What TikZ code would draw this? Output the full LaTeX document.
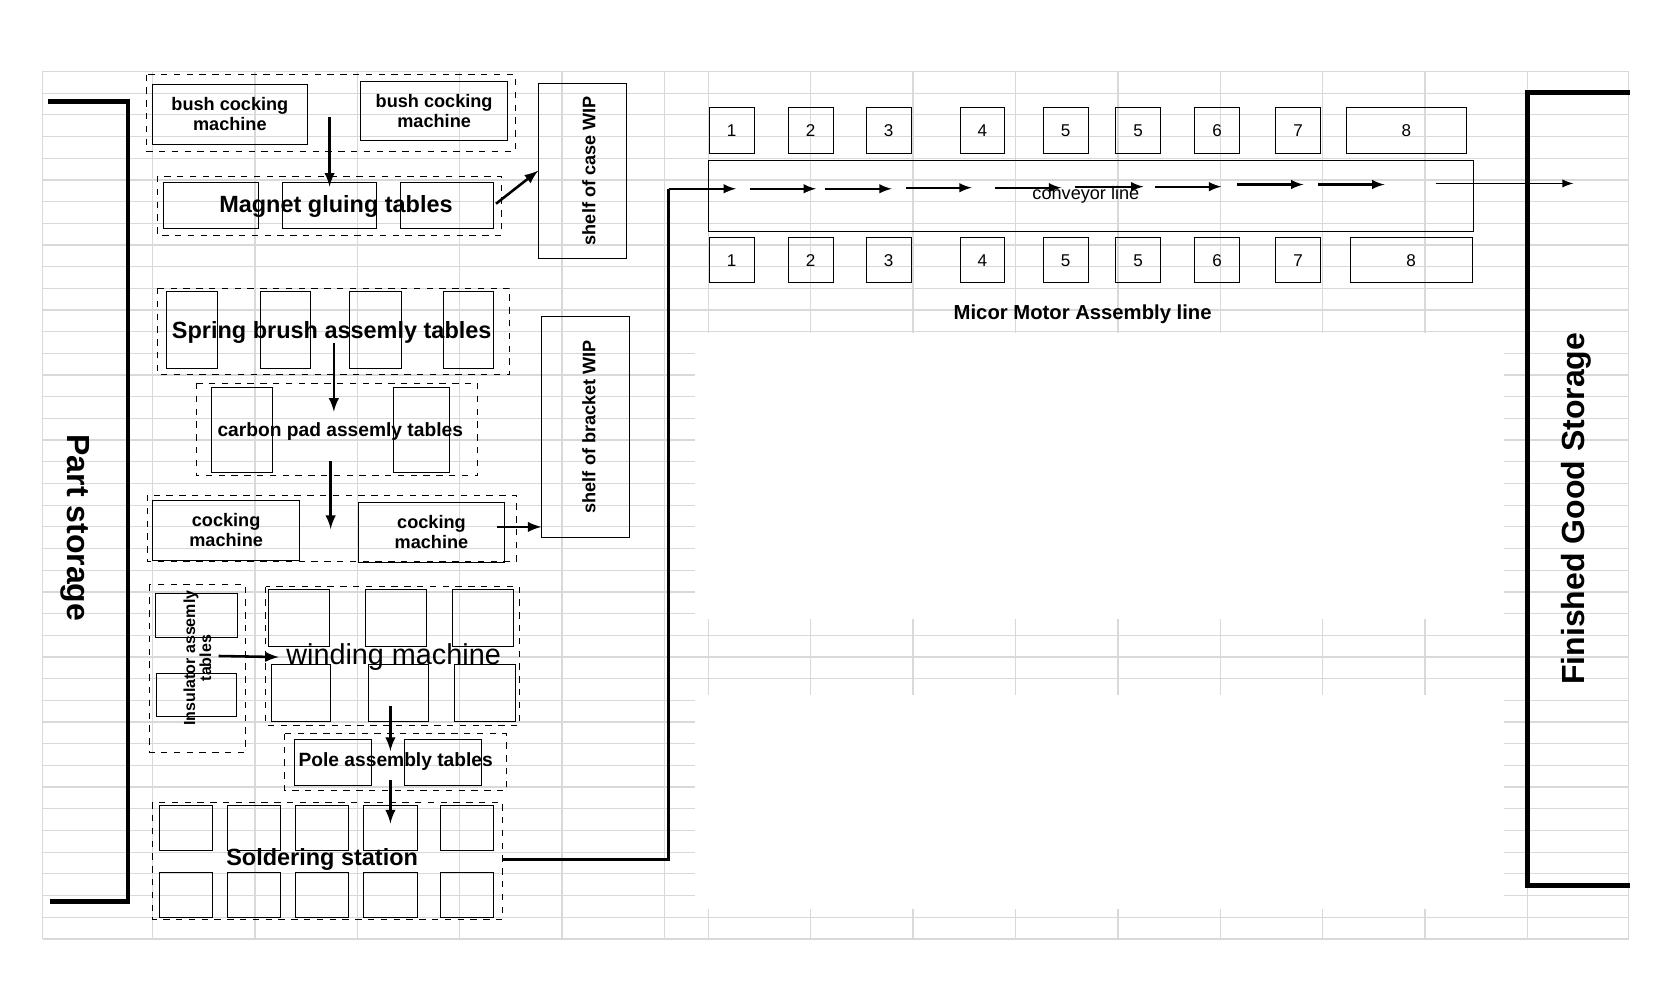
\documentclass[tikz,border=0pt]{standalone}
\usepackage{fontspec}
\setmainfont{Liberation Sans}
\begin{document}
\begin{tikzpicture}[x=0.5pt,y=-0.5pt,
  grp/.style={draw,dashed,thin},
  bx/.style={draw,thin},
  arr/.style={-latex,line width=1.2pt},
  thk/.style={line width=2.2pt},
  lbl/.style={font=\bfseries\fontsize{8.5}{9.5}\selectfont,align=center},
  big/.style={font=\bfseries\fontsize{11}{12}\selectfont},
  num/.style={font=\fontsize{8}{9}\selectfont}]
\useasboundingbox (0,0) rectangle (1560,936);
% grid
\foreach \i in {0,...,40}{\draw[gray!30,line width=0.6pt] (40,{67+\i*20.33}) -- (1527,{67+\i*20.33});}
\foreach \x in {40,143,239,335,431,527,623,664,760,856,952,1048,1144,1240,1336,1432,1527}{\draw[gray!30,line width=0.6pt] (\x,67) -- (\x,880);}
\fill[white] (652,312) rectangle (1410,580);
\fill[white] (652,652) rectangle (1410,852);
% storages
\draw[thk] (45,95) -- (120,95) -- (120,845) -- (47,845);
\node[rotate=-90,font=\bfseries\fontsize{15}{16}\selectfont] (ps) at (70,495) {Part storage};
\draw[thk] (1528,87) -- (1432,87) -- (1432,830) -- (1528,830);
\node[rotate=90,font=\bfseries\fontsize{15}{16}\selectfont] (fg) at (1478,477) {Finished Good Storage};
% bush cocking
\draw[grp] (137,70) rectangle (483,142);
\node[bx,lbl,minimum width=72.5pt,minimum height=28pt] (bc1) at (215.5,107) {bush cocking\\machine};
\node[bx,lbl,minimum width=69pt,minimum height=28pt] (bc2) at (407,104) {bush cocking\\machine};
% magnet
\draw[grp] (148,165) rectangle (470,221);
\draw[bx] (153,171) rectangle (242,214) (265,171) rectangle (353,214) (375,171) rectangle (463,214);
\node[big] (mg) at (315,194) {Magnet gluing tables};
\coordinate (a1s) at (309,110); \coordinate (a1e) at (309,175);
\draw[arr] (a1s) -- (a1e);
\node[bx,minimum width=41pt,minimum height=82pt] (scase) at (546,160) {};
\node[rotate=90,lbl] at (552,160) {shelf of case WIP};
\coordinate (a2s) at (465,191);
\draw[arr] (a2s) -- (scase.west);
% spring
\draw[grp] (148,270) rectangle (478,351);
\draw[bx] (156,273) rectangle (204,345) (244,273) rectangle (291,345) (328,273) rectangle (376,345) (416,273) rectangle (463,345);
\node[big] (sp) at (311,312) {Spring brush assemly tables};
\coordinate (a3s) at (313,322); \coordinate (a3e) at (313,386);
\draw[arr] (a3s) -- (a3e);
% carbon
\draw[grp] (184,359) rectangle (448,446);
\draw[bx] (198,363) rectangle (255,443) (369,363) rectangle (421,443);
\node[lbl,font=\bfseries\fontsize{9}{10}\selectfont] (cp) at (319,405) {carbon pad assemly tables};
\coordinate (a4s) at (310,432); \coordinate (a4e) at (310,496);
\draw[arr] (a4s) -- (a4e);
\node[bx,minimum width=41pt,minimum height=103.5pt] (sbr) at (549,400.5) {};
\node[rotate=90,lbl] at (552,400) {shelf of bracket WIP};
% cocking
\draw[grp] (138,464) rectangle (484,526);
\node[bx,lbl,minimum width=69pt,minimum height=28pt] (cm1) at (212,497) {cocking\\machine};
\node[bx,lbl,minimum width=68.5pt,minimum height=28pt] (cm2) at (404.5,499) {cocking\\machine};
\coordinate (a5s) at (466,494);
\draw[arr] (a5s) -- (sbr.west |- a5s);
% insulator
\draw[grp] (140,548) rectangle (230,705);
\draw[bx] (146,556) rectangle (223,598) (147,631) rectangle (222,672);
\node[rotate=90,lbl,font=\bfseries\fontsize{7.5}{7.5}\selectfont] (ins) at (185,617) {Insulator assemly\\tables};
% winding
\draw[grp] (249,550) rectangle (487,680);
\draw[bx] (252,553) rectangle (309,606) (343,553) rectangle (400,606) (424,553) rectangle (481,606)
 (254,623) rectangle (310,676) (345,623) rectangle (402,676) (426,623) rectangle (483,676);
\node[font=\fontsize{13.5}{14}\selectfont] (wm) at (369,616) {winding machine};
\coordinate (a6s) at (205,615);
\draw[arr] (a6s) -- (wm.west);
\coordinate (a7s) at (366,662); \coordinate (a7e) at (366,704);
\draw[arr] (a7s) -- (a7e);
% pole
\draw[grp] (267,688) rectangle (475,741);
\draw[bx] (276,693) rectangle (348,736) (379,693) rectangle (451,736);
\node[lbl,font=\bfseries\fontsize{9}{10}\selectfont] (pole) at (371,714) {Pole assembly tables};
\coordinate (a8s) at (366,731); \coordinate (a8e) at (366,772);
\draw[arr] (a8s) -- (a8e);
% soldering
\draw[grp] (143,752) rectangle (471,862);
\foreach \x in {149,213,277,341,413}{\draw[bx] (\x,755) rectangle (\x+50,797) (\x,818) rectangle (\x+50,860);}
\node[big] (sol) at (302,806) {Soldering station};
\coordinate (s1) at (471,806); \coordinate (c1) at (690,177);
\draw[line width=1.5pt] (s1) -- (627,806) -- (627,177);
\draw[arr,line width=1pt] (627,177) -- (c1);
% conveyor
\node[bx,minimum width=358.5pt,minimum height=33.5pt] (conv) at (1022.5,183.5) {};
\node[font=\fontsize{8.5}{9}\selectfont] at (1018,183) {conveyor  line};
\foreach \a/\b/\y in {703/765/177,773/836/177,849/911/176,933/995/176,1008/1072/175,1083/1145/175,1160/1222/173,1236/1298/173}{\draw[arr,line width=1pt] (\a,\y) -- (\b,\y);}
\coordinate (e1) at (1346,172); \coordinate (e2) at (1475,172);
\draw[-latex,line width=0.8pt] (e1) -- (e2);
\foreach \l/\r/\t [count=\k] in {665/707/1,739/781/2,812/854/3,900/942/4,978/1020/5,1046/1088/5,1120/1162/6,1196/1238/7}{
 \node[bx,num,minimum width=21pt,minimum height=21.5pt] (t\k) at ({(\l+\r)/2},122.5) {\t};
 \node[bx,num,minimum width=21pt,minimum height=21pt] (b\k) at ({(\l+\r)/2},244) {\t};}
\node[bx,num,minimum width=56.5pt,minimum height=21.5pt] (t9) at (1318.5,122.5) {8};
\node[bx,num,minimum width=57pt,minimum height=21pt] (b9) at (1323,244) {8};
\node[big,font=\bfseries\fontsize{9.5}{10}\selectfont] (mm) at (1015,295) {Micor Motor Assembly line};
\end{tikzpicture}
\end{document}
